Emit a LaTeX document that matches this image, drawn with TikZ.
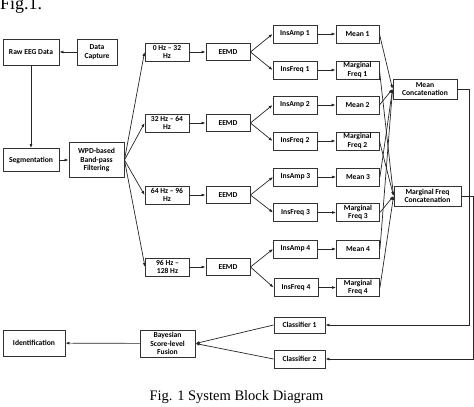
\documentclass[tikz,border=0pt]{standalone}
\usepackage{fontspec}
\setmainfont{Liberation Serif}
\newfontfamily\boxfont{Carlito}
\usepackage{tikz}
\usetikzlibrary{arrows.meta, positioning}

\begin{document}
\begin{tikzpicture}[
    x=1pt, y=-1pt,
    block/.style={rectangle, draw=black!80, line width=0.9pt, fill=white,
                  inner sep=1pt, align=center, font=\boxfont\bfseries\fontsize{7.6}{8.6}\selectfont,
                  minimum width=44pt, minimum height=18pt},
    arrow/.style={-{Latex[length=4pt,width=3pt]}, line width=0.7pt, black!85}
]
\useasboundingbox (0,0) rectangle (474,407);

% Captions
\node[anchor=base west, inner sep=0pt, font=\fontsize{18}{20}\selectfont] (figtop) at (0,9) {Fig.1.};
\node[inner sep=0pt, font=\fontsize{14.5}{16}\selectfont] (caption) at (236.5,397) {Fig. 1 System Block Diagram};

% Acquisition
\node[block, minimum width=56pt, minimum height=26pt] (raw) at (31,52) {Raw EEG Data};
\node[block, minimum width=40pt, minimum height=26pt] (capture) at (97,52) {Data\\Capture};
\node[block, minimum width=56pt, minimum height=23pt] (seg) at (31,160) {Segmentation};
\node[block, minimum width=55pt, minimum height=35pt] (wpd) at (96.5,160) {WPD-based\\Band-pass\\Filtering};

\draw[arrow] (capture) -- (raw);
\draw[arrow] (raw) -- (seg);
\draw[arrow] (seg) -- (wpd);

% Frequency bands
\node[block] (band1) at (167,52) {0 Hz – 32\\Hz};
\node[block] (band2) at (167,123) {32 Hz – 64\\Hz};
\node[block] (band3) at (167,195) {64 Hz – 96\\Hz};
\node[block] (band4) at (167.5,267) {96 Hz –\\128 Hz};

\node[block, minimum height=17pt] (eemd1) at (228,52) {EEMD};
\node[block, minimum height=17pt] (eemd2) at (228,123) {EEMD};
\node[block, minimum height=17pt] (eemd3) at (228,195) {EEMD};
\node[block, minimum height=17pt] (eemd4) at (228,267) {EEMD};

\draw[arrow] (wpd.east) -- (band1.west);
\draw[arrow] (wpd.east) -- (band2.west);
\draw[arrow] (wpd.east) -- (band3.west);
\draw[arrow] (wpd.east) -- (band4.west);

\draw[arrow] (band1) -- (eemd1);
\draw[arrow] (band2) -- (eemd2);
\draw[arrow] (band3) -- (eemd3);
\draw[arrow] (band4) -- (eemd4);

% Instantaneous amplitude / frequency
\node[block] (amp1) at (295,34) {InsAmp 1};
\node[block] (frq1) at (295,70) {InsFreq 1};
\node[block] (amp2) at (295,105) {InsAmp 2};
\node[block] (frq2) at (295,141) {InsFreq 2};
\node[block] (amp3) at (295.5,177) {InsAmp 3};
\node[block] (frq3) at (295.5,212.5) {InsFreq 3};
\node[block] (amp4) at (295.5,249) {InsAmp 4};
\node[block] (frq4) at (296,287.5) {InsFreq 4};

\foreach \k in {1,2,3,4} {
    \draw[arrow] (eemd\k.east) -- (amp\k.west);
    \draw[arrow] (eemd\k.east) -- (frq\k.west);
}

% Features
\node[block, minimum width=43pt] (mean1) at (357.5,34) {Mean 1};
\node[block, minimum width=43pt] (marg1) at (357.5,70) {Marginal\\Freq 1};
\node[block, minimum width=43pt] (mean2) at (357.5,105) {Mean 2};
\node[block, minimum width=43pt] (marg2) at (357.5,141) {Marginal\\Freq 2};
\node[block, minimum width=43pt] (mean3) at (358,177) {Mean 3};
\node[block, minimum width=43pt] (marg3) at (358,212.5) {Marginal\\Freq 3};
\node[block, minimum width=43pt] (mean4) at (358,249) {Mean 4};
\node[block, minimum width=43pt] (marg4) at (358,287.5) {Marginal\\Freq 4};

\foreach \k in {1,2,3,4} {
    \draw[arrow] (amp\k) -- (mean\k);
    \draw[arrow] (frq\k) -- (marg\k);
}

% Concatenation
\node[block, minimum width=64pt, minimum height=20pt] (meancat) at (425,89) {Mean\\Concatenation};
\node[block, minimum width=67pt, minimum height=20pt] (margcat) at (427.5,196) {Marginal Freq\\Concatenation};

\foreach \k in {1,2,3,4} {
    \draw[arrow] (mean\k.east) -- (meancat.west);
    \draw[arrow] (marg\k.east) -- (margcat.west);
}

% Classification and fusion
\node[block, minimum width=51pt, minimum height=16pt] (clf1) at (299.5,325) {Classifier 1};
\node[block, minimum width=51pt, minimum height=18pt] (clf2) at (299.5,359) {Classifier 2};
\node[block, minimum width=55pt, minimum height=27pt] (fusion) at (167.5,343.5) {Bayesian\\Score-level\\Fusion};
\node[block, minimum width=62pt, minimum height=26pt] (ident) at (34,343) {Identification};

\coordinate (turn1) at (469,89);
\coordinate (turn2) at (473,196);
\draw[arrow] (meancat.east) -- (turn1) |- (clf1.east);
\draw[arrow] (margcat.east) -- (turn2) |- (clf2.east);

\draw[arrow] (clf1.west) -- (fusion.east);
\draw[arrow] (clf2.west) -- (fusion.east);
\draw[arrow] (fusion) -- (ident);

\end{tikzpicture}
\end{document}
